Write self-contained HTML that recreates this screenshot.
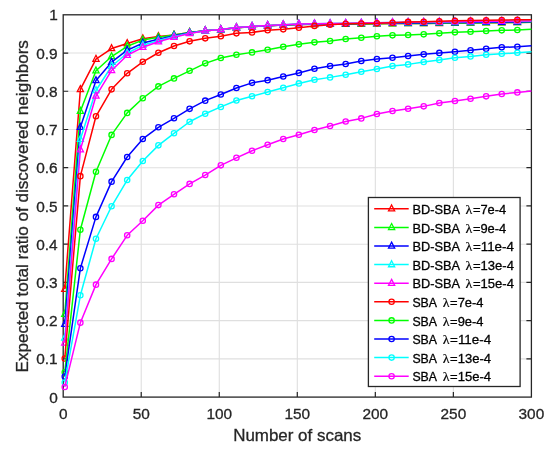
<!DOCTYPE html><html><head><meta charset="utf-8"><title>Expected total ratio of discovered neighbors</title>
<style>html,body{margin:0;padding:0;background:#fff}svg{display:block}text{font-family:"Liberation Sans",Arial,Helvetica,sans-serif;stroke-width:0.3px}</style></head><body>
<svg width="550" height="449" viewBox="0 0 550 449">
<rect width="550" height="449" fill="#ffffff"/>
<path d="M141.23 14.8 V397.1 M219.27 14.8 V397.1 M297.30 14.8 V397.1 M375.33 14.8 V397.1 M453.37 14.8 V397.1 M63.2 358.87 H531.4 M63.2 320.64 H531.4 M63.2 282.41 H531.4 M63.2 244.18 H531.4 M63.2 205.95 H531.4 M63.2 167.72 H531.4 M63.2 129.49 H531.4 M63.2 91.26 H531.4 M63.2 53.03 H531.4" stroke="#dfdfdf" stroke-width="1.1" fill="none"/>
<path d="M141.23 397.1 v-5.0 M141.23 14.8 v5.0 M219.27 397.1 v-5.0 M219.27 14.8 v5.0 M297.30 397.1 v-5.0 M297.30 14.8 v5.0 M375.33 397.1 v-5.0 M375.33 14.8 v5.0 M453.37 397.1 v-5.0 M453.37 14.8 v5.0 M63.2 358.87 h5.0 M531.4 358.87 h-5.0 M63.2 320.64 h5.0 M531.4 320.64 h-5.0 M63.2 282.41 h5.0 M531.4 282.41 h-5.0 M63.2 244.18 h5.0 M531.4 244.18 h-5.0 M63.2 205.95 h5.0 M531.4 205.95 h-5.0 M63.2 167.72 h5.0 M531.4 167.72 h-5.0 M63.2 129.49 h5.0 M531.4 129.49 h-5.0 M63.2 91.26 h5.0 M531.4 91.26 h-5.0 M63.2 53.03 h5.0 M531.4 53.03 h-5.0" stroke="#262626" stroke-width="1.2" fill="none"/>
<rect x="63.2" y="14.8" width="468.20" height="382.30" fill="none" stroke="#262626" stroke-width="1.3"/>
<polyline points="64.76,289.29 80.37,89.46 95.97,59.15 111.58,48.56 127.19,43.51 142.79,38.69 158.40,36.51 174.01,34.91 189.61,32.39 205.22,30.67 220.83,29.62 236.43,27.76 252.04,26.67 267.65,25.78 283.25,25.11 298.86,24.56 314.47,24.35 330.07,24.22 345.68,24.08 361.29,23.92 376.89,23.75 392.50,23.61 408.11,23.51 423.71,23.43 439.32,23.33 454.93,23.15 470.53,22.94 486.14,22.75 501.75,22.64 517.35,22.52 531.40,22.37" fill="none" stroke="#ff0000" stroke-width="1.5" stroke-linejoin="round"/>
<path d="M64.76 285.44 L67.86 291.44 L61.66 291.44 Z M80.37 85.61 L83.47 91.61 L77.27 91.61 Z M95.97 55.30 L99.07 61.30 L92.87 61.30 Z M111.58 44.71 L114.68 50.71 L108.48 50.71 Z M127.19 39.66 L130.29 45.66 L124.09 45.66 Z M142.79 34.84 L145.89 40.84 L139.69 40.84 Z M158.40 32.66 L161.50 38.66 L155.30 38.66 Z M174.01 31.06 L177.11 37.06 L170.91 37.06 Z M189.61 28.54 L192.71 34.54 L186.51 34.54 Z M205.22 26.82 L208.32 32.82 L202.12 32.82 Z M220.83 25.77 L223.93 31.77 L217.73 31.77 Z M236.43 23.91 L239.53 29.91 L233.33 29.91 Z M252.04 22.82 L255.14 28.82 L248.94 28.82 Z M267.65 21.93 L270.75 27.93 L264.55 27.93 Z M283.25 21.26 L286.35 27.26 L280.15 27.26 Z M298.86 20.71 L301.96 26.71 L295.76 26.71 Z M314.47 20.50 L317.57 26.50 L311.37 26.50 Z M330.07 20.37 L333.17 26.37 L326.97 26.37 Z M345.68 20.23 L348.78 26.23 L342.58 26.23 Z M361.29 20.07 L364.39 26.07 L358.19 26.07 Z M376.89 19.90 L379.99 25.90 L373.79 25.90 Z M392.50 19.76 L395.60 25.76 L389.40 25.76 Z M408.11 19.66 L411.21 25.66 L405.01 25.66 Z M423.71 19.58 L426.81 25.58 L420.61 25.58 Z M439.32 19.48 L442.42 25.48 L436.22 25.48 Z M454.93 19.30 L458.03 25.30 L451.83 25.30 Z M470.53 19.09 L473.63 25.09 L467.43 25.09 Z M486.14 18.90 L489.24 24.90 L483.04 24.90 Z M501.75 18.79 L504.85 24.79 L498.65 24.79 Z M517.35 18.67 L520.45 24.67 L514.25 24.67 Z" fill="none" stroke="#ff0000" stroke-width="1.3" stroke-linejoin="miter"/>
<polyline points="64.76,314.29 80.37,111.25 95.97,70.81 111.58,56.55 127.19,46.26 142.79,40.11 158.40,37.36 174.01,35.10 189.61,32.48 205.22,30.67 220.83,29.61 236.43,27.76 252.04,26.67 267.65,25.77 283.25,25.10 298.86,24.54 314.47,24.33 330.07,24.19 345.68,24.06 361.29,23.89 376.89,23.72 392.50,23.58 408.11,23.48 423.71,23.39 439.32,23.29 454.93,23.11 470.53,22.90 486.14,22.71 501.75,22.60 517.35,22.48 531.40,22.33" fill="none" stroke="#00ff00" stroke-width="1.5" stroke-linejoin="round"/>
<path d="M64.76 310.44 L67.86 316.44 L61.66 316.44 Z M80.37 107.40 L83.47 113.40 L77.27 113.40 Z M95.97 66.96 L99.07 72.96 L92.87 72.96 Z M111.58 52.70 L114.68 58.70 L108.48 58.70 Z M127.19 42.41 L130.29 48.41 L124.09 48.41 Z M142.79 36.26 L145.89 42.26 L139.69 42.26 Z M158.40 33.51 L161.50 39.51 L155.30 39.51 Z M174.01 31.25 L177.11 37.25 L170.91 37.25 Z M189.61 28.63 L192.71 34.63 L186.51 34.63 Z M205.22 26.82 L208.32 32.82 L202.12 32.82 Z M220.83 25.76 L223.93 31.76 L217.73 31.76 Z M236.43 23.91 L239.53 29.91 L233.33 29.91 Z M252.04 22.82 L255.14 28.82 L248.94 28.82 Z M267.65 21.92 L270.75 27.92 L264.55 27.92 Z M283.25 21.25 L286.35 27.25 L280.15 27.25 Z M298.86 20.69 L301.96 26.69 L295.76 26.69 Z M314.47 20.48 L317.57 26.48 L311.37 26.48 Z M330.07 20.34 L333.17 26.34 L326.97 26.34 Z M345.68 20.21 L348.78 26.21 L342.58 26.21 Z M361.29 20.04 L364.39 26.04 L358.19 26.04 Z M376.89 19.87 L379.99 25.87 L373.79 25.87 Z M392.50 19.73 L395.60 25.73 L389.40 25.73 Z M408.11 19.63 L411.21 25.63 L405.01 25.63 Z M423.71 19.54 L426.81 25.54 L420.61 25.54 Z M439.32 19.44 L442.42 25.44 L436.22 25.44 Z M454.93 19.26 L458.03 25.26 L451.83 25.26 Z M470.53 19.05 L473.63 25.05 L467.43 25.05 Z M486.14 18.86 L489.24 24.86 L483.04 24.86 Z M501.75 18.75 L504.85 24.75 L498.65 24.75 Z M517.35 18.63 L520.45 24.63 L514.25 24.63 Z" fill="none" stroke="#00ff00" stroke-width="1.3" stroke-linejoin="miter"/>
<polyline points="64.76,324.27 80.37,127.31 95.97,80.56 111.58,62.21 127.19,50.20 142.79,43.09 158.40,39.27 174.01,35.67 189.61,32.77 205.22,30.67 220.83,29.58 236.43,27.69 252.04,26.57 267.65,25.63 283.25,24.93 298.86,24.34 314.47,24.09 330.07,23.93 345.68,23.76 361.29,23.56 376.89,23.36 392.50,23.18 408.11,23.04 423.71,22.93 439.32,22.79 454.93,22.60 470.53,22.39 486.14,22.22 501.75,22.10 517.35,21.99 531.40,21.83" fill="none" stroke="#0000ff" stroke-width="1.5" stroke-linejoin="round"/>
<path d="M64.76 320.42 L67.86 326.42 L61.66 326.42 Z M80.37 123.46 L83.47 129.46 L77.27 129.46 Z M95.97 76.71 L99.07 82.71 L92.87 82.71 Z M111.58 58.36 L114.68 64.36 L108.48 64.36 Z M127.19 46.35 L130.29 52.35 L124.09 52.35 Z M142.79 39.24 L145.89 45.24 L139.69 45.24 Z M158.40 35.42 L161.50 41.42 L155.30 41.42 Z M174.01 31.82 L177.11 37.82 L170.91 37.82 Z M189.61 28.92 L192.71 34.92 L186.51 34.92 Z M205.22 26.82 L208.32 32.82 L202.12 32.82 Z M220.83 25.73 L223.93 31.73 L217.73 31.73 Z M236.43 23.84 L239.53 29.84 L233.33 29.84 Z M252.04 22.72 L255.14 28.72 L248.94 28.72 Z M267.65 21.78 L270.75 27.78 L264.55 27.78 Z M283.25 21.08 L286.35 27.08 L280.15 27.08 Z M298.86 20.49 L301.96 26.49 L295.76 26.49 Z M314.47 20.24 L317.57 26.24 L311.37 26.24 Z M330.07 20.08 L333.17 26.08 L326.97 26.08 Z M345.68 19.91 L348.78 25.91 L342.58 25.91 Z M361.29 19.71 L364.39 25.71 L358.19 25.71 Z M376.89 19.51 L379.99 25.51 L373.79 25.51 Z M392.50 19.33 L395.60 25.33 L389.40 25.33 Z M408.11 19.19 L411.21 25.19 L405.01 25.19 Z M423.71 19.08 L426.81 25.08 L420.61 25.08 Z M439.32 18.94 L442.42 24.94 L436.22 24.94 Z M454.93 18.75 L458.03 24.75 L451.83 24.75 Z M470.53 18.54 L473.63 24.54 L467.43 24.54 Z M486.14 18.37 L489.24 24.37 L483.04 24.37 Z M501.75 18.25 L504.85 24.25 L498.65 24.25 Z M517.35 18.14 L520.45 24.14 L514.25 24.14 Z" fill="none" stroke="#0000ff" stroke-width="1.3" stroke-linejoin="miter"/>
<polyline points="64.76,337.96 80.37,139.32 95.97,90.50 111.58,66.26 127.19,53.22 142.79,45.19 158.40,40.53 174.01,36.44 189.61,33.15 205.22,30.67 220.83,29.53 236.43,27.58 252.04,26.41 267.65,25.42 283.25,24.66 298.86,24.02 314.47,23.71 330.07,23.50 345.68,23.28 361.29,23.02 376.89,22.77 392.50,22.54 408.11,22.34 423.71,22.17 439.32,21.99 454.93,21.79 470.53,21.58 486.14,21.41 501.75,21.30 517.35,21.18 531.40,21.03" fill="none" stroke="#00ffff" stroke-width="1.5" stroke-linejoin="round"/>
<path d="M64.76 334.11 L67.86 340.11 L61.66 340.11 Z M80.37 135.47 L83.47 141.47 L77.27 141.47 Z M95.97 86.65 L99.07 92.65 L92.87 92.65 Z M111.58 62.41 L114.68 68.41 L108.48 68.41 Z M127.19 49.37 L130.29 55.37 L124.09 55.37 Z M142.79 41.34 L145.89 47.34 L139.69 47.34 Z M158.40 36.68 L161.50 42.68 L155.30 42.68 Z M174.01 32.59 L177.11 38.59 L170.91 38.59 Z M189.61 29.30 L192.71 35.30 L186.51 35.30 Z M205.22 26.82 L208.32 32.82 L202.12 32.82 Z M220.83 25.68 L223.93 31.68 L217.73 31.68 Z M236.43 23.73 L239.53 29.73 L233.33 29.73 Z M252.04 22.56 L255.14 28.56 L248.94 28.56 Z M267.65 21.57 L270.75 27.57 L264.55 27.57 Z M283.25 20.81 L286.35 26.81 L280.15 26.81 Z M298.86 20.17 L301.96 26.17 L295.76 26.17 Z M314.47 19.86 L317.57 25.86 L311.37 25.86 Z M330.07 19.65 L333.17 25.65 L326.97 25.65 Z M345.68 19.43 L348.78 25.43 L342.58 25.43 Z M361.29 19.17 L364.39 25.17 L358.19 25.17 Z M376.89 18.92 L379.99 24.92 L373.79 24.92 Z M392.50 18.69 L395.60 24.69 L389.40 24.69 Z M408.11 18.49 L411.21 24.49 L405.01 24.49 Z M423.71 18.32 L426.81 24.32 L420.61 24.32 Z M439.32 18.14 L442.42 24.14 L436.22 24.14 Z M454.93 17.94 L458.03 23.94 L451.83 23.94 Z M470.53 17.73 L473.63 23.73 L467.43 23.73 Z M486.14 17.56 L489.24 23.56 L483.04 23.56 Z M501.75 17.45 L504.85 23.45 L498.65 23.45 Z M517.35 17.33 L520.45 23.33 L514.25 23.33 Z" fill="none" stroke="#00ffff" stroke-width="1.3" stroke-linejoin="miter"/>
<polyline points="64.76,342.93 80.37,149.75 95.97,96.04 111.58,70.42 127.19,55.25 142.79,47.30 158.40,41.71 174.01,37.20 189.61,33.53 205.22,30.67 220.83,29.52 236.43,27.57 252.04,26.38 267.65,25.39 283.25,24.63 298.86,23.98 314.47,23.66 330.07,23.43 345.68,23.21 361.29,22.95 376.89,22.68 392.50,22.45 408.11,22.24 423.71,22.06 439.32,21.87 454.93,21.67 470.53,21.47 486.14,21.30 501.75,21.18 517.35,21.07 531.40,20.92" fill="none" stroke="#ff00ff" stroke-width="1.5" stroke-linejoin="round"/>
<path d="M64.76 339.08 L67.86 345.08 L61.66 345.08 Z M80.37 145.90 L83.47 151.90 L77.27 151.90 Z M95.97 92.19 L99.07 98.19 L92.87 98.19 Z M111.58 66.57 L114.68 72.57 L108.48 72.57 Z M127.19 51.40 L130.29 57.40 L124.09 57.40 Z M142.79 43.45 L145.89 49.45 L139.69 49.45 Z M158.40 37.86 L161.50 43.86 L155.30 43.86 Z M174.01 33.35 L177.11 39.35 L170.91 39.35 Z M189.61 29.68 L192.71 35.68 L186.51 35.68 Z M205.22 26.82 L208.32 32.82 L202.12 32.82 Z M220.83 25.67 L223.93 31.67 L217.73 31.67 Z M236.43 23.72 L239.53 29.72 L233.33 29.72 Z M252.04 22.53 L255.14 28.53 L248.94 28.53 Z M267.65 21.54 L270.75 27.54 L264.55 27.54 Z M283.25 20.78 L286.35 26.78 L280.15 26.78 Z M298.86 20.13 L301.96 26.13 L295.76 26.13 Z M314.47 19.81 L317.57 25.81 L311.37 25.81 Z M330.07 19.58 L333.17 25.58 L326.97 25.58 Z M345.68 19.36 L348.78 25.36 L342.58 25.36 Z M361.29 19.10 L364.39 25.10 L358.19 25.10 Z M376.89 18.83 L379.99 24.83 L373.79 24.83 Z M392.50 18.60 L395.60 24.60 L389.40 24.60 Z M408.11 18.39 L411.21 24.39 L405.01 24.39 Z M423.71 18.21 L426.81 24.21 L420.61 24.21 Z M439.32 18.02 L442.42 24.02 L436.22 24.02 Z M454.93 17.82 L458.03 23.82 L451.83 23.82 Z M470.53 17.62 L473.63 23.62 L467.43 23.62 Z M486.14 17.45 L489.24 23.45 L483.04 23.45 Z M501.75 17.33 L504.85 23.33 L498.65 23.33 Z M517.35 17.22 L520.45 23.22 L514.25 23.22 Z" fill="none" stroke="#ff00ff" stroke-width="1.3" stroke-linejoin="miter"/>
<polyline points="64.76,358.45 80.37,176.13 95.97,116.30 111.58,89.35 127.19,73.29 142.79,61.82 158.40,52.76 174.01,45.96 189.61,41.33 205.22,38.35 220.83,36.32 236.43,33.34 252.04,32.39 267.65,30.32 283.25,29.33 298.86,27.72 314.47,25.89 330.07,24.74 345.68,23.71 361.29,23.59 376.89,23.33 392.50,22.71 408.11,21.91 423.71,21.68 439.32,21.30 454.93,20.84 470.53,20.50 486.14,20.23 501.75,20.04 517.35,19.85 531.40,19.73" fill="none" stroke="#ff0000" stroke-width="1.5" stroke-linejoin="round"/>
<g fill="none" stroke="#ff0000" stroke-width="1.3"><circle cx="64.76" cy="358.45" r="2.65"/><circle cx="80.37" cy="176.13" r="2.65"/><circle cx="95.97" cy="116.30" r="2.65"/><circle cx="111.58" cy="89.35" r="2.65"/><circle cx="127.19" cy="73.29" r="2.65"/><circle cx="142.79" cy="61.82" r="2.65"/><circle cx="158.40" cy="52.76" r="2.65"/><circle cx="174.01" cy="45.96" r="2.65"/><circle cx="189.61" cy="41.33" r="2.65"/><circle cx="205.22" cy="38.35" r="2.65"/><circle cx="220.83" cy="36.32" r="2.65"/><circle cx="236.43" cy="33.34" r="2.65"/><circle cx="252.04" cy="32.39" r="2.65"/><circle cx="267.65" cy="30.32" r="2.65"/><circle cx="283.25" cy="29.33" r="2.65"/><circle cx="298.86" cy="27.72" r="2.65"/><circle cx="314.47" cy="25.89" r="2.65"/><circle cx="330.07" cy="24.74" r="2.65"/><circle cx="345.68" cy="23.71" r="2.65"/><circle cx="361.29" cy="23.59" r="2.65"/><circle cx="376.89" cy="23.33" r="2.65"/><circle cx="392.50" cy="22.71" r="2.65"/><circle cx="408.11" cy="21.91" r="2.65"/><circle cx="423.71" cy="21.68" r="2.65"/><circle cx="439.32" cy="21.30" r="2.65"/><circle cx="454.93" cy="20.84" r="2.65"/><circle cx="470.53" cy="20.50" r="2.65"/><circle cx="486.14" cy="20.23" r="2.65"/><circle cx="501.75" cy="20.04" r="2.65"/><circle cx="517.35" cy="19.85" r="2.65"/></g>
<polyline points="64.76,372.33 80.37,229.69 95.97,171.81 111.58,134.92 127.19,112.90 142.79,98.26 158.40,86.40 174.01,78.41 189.61,70.81 205.22,63.35 220.83,58.00 236.43,54.75 252.04,52.38 267.65,49.78 283.25,46.76 298.86,44.35 314.47,42.33 330.07,40.95 345.68,38.96 361.29,37.74 376.89,36.32 392.50,35.33 408.11,34.95 423.71,34.34 439.32,33.34 454.93,32.35 470.53,31.74 486.14,30.93 501.75,30.36 517.35,29.94 531.40,29.33" fill="none" stroke="#00ff00" stroke-width="1.5" stroke-linejoin="round"/>
<g fill="none" stroke="#00ff00" stroke-width="1.3"><circle cx="64.76" cy="372.33" r="2.65"/><circle cx="80.37" cy="229.69" r="2.65"/><circle cx="95.97" cy="171.81" r="2.65"/><circle cx="111.58" cy="134.92" r="2.65"/><circle cx="127.19" cy="112.90" r="2.65"/><circle cx="142.79" cy="98.26" r="2.65"/><circle cx="158.40" cy="86.40" r="2.65"/><circle cx="174.01" cy="78.41" r="2.65"/><circle cx="189.61" cy="70.81" r="2.65"/><circle cx="205.22" cy="63.35" r="2.65"/><circle cx="220.83" cy="58.00" r="2.65"/><circle cx="236.43" cy="54.75" r="2.65"/><circle cx="252.04" cy="52.38" r="2.65"/><circle cx="267.65" cy="49.78" r="2.65"/><circle cx="283.25" cy="46.76" r="2.65"/><circle cx="298.86" cy="44.35" r="2.65"/><circle cx="314.47" cy="42.33" r="2.65"/><circle cx="330.07" cy="40.95" r="2.65"/><circle cx="345.68" cy="38.96" r="2.65"/><circle cx="361.29" cy="37.74" r="2.65"/><circle cx="376.89" cy="36.32" r="2.65"/><circle cx="392.50" cy="35.33" r="2.65"/><circle cx="408.11" cy="34.95" r="2.65"/><circle cx="423.71" cy="34.34" r="2.65"/><circle cx="439.32" cy="33.34" r="2.65"/><circle cx="454.93" cy="32.35" r="2.65"/><circle cx="470.53" cy="31.74" r="2.65"/><circle cx="486.14" cy="30.93" r="2.65"/><circle cx="501.75" cy="30.36" r="2.65"/><circle cx="517.35" cy="29.94" r="2.65"/></g>
<polyline points="64.76,376.61 80.37,268.19 95.97,216.88 111.58,181.67 127.19,157.02 142.79,138.93 158.40,127.31 174.01,118.29 189.61,108.85 205.22,100.63 220.83,94.55 236.43,88.01 252.04,82.85 267.65,80.17 283.25,76.43 298.86,72.91 314.47,68.82 330.07,66.03 345.68,64.00 361.29,61.06 376.89,58.99 392.50,57.77 408.11,55.97 423.71,54.37 439.32,52.92 454.93,51.77 470.53,50.35 486.14,48.82 501.75,47.37 517.35,46.76 531.40,45.77" fill="none" stroke="#0000ff" stroke-width="1.5" stroke-linejoin="round"/>
<g fill="none" stroke="#0000ff" stroke-width="1.3"><circle cx="64.76" cy="376.61" r="2.65"/><circle cx="80.37" cy="268.19" r="2.65"/><circle cx="95.97" cy="216.88" r="2.65"/><circle cx="111.58" cy="181.67" r="2.65"/><circle cx="127.19" cy="157.02" r="2.65"/><circle cx="142.79" cy="138.93" r="2.65"/><circle cx="158.40" cy="127.31" r="2.65"/><circle cx="174.01" cy="118.29" r="2.65"/><circle cx="189.61" cy="108.85" r="2.65"/><circle cx="205.22" cy="100.63" r="2.65"/><circle cx="220.83" cy="94.55" r="2.65"/><circle cx="236.43" cy="88.01" r="2.65"/><circle cx="252.04" cy="82.85" r="2.65"/><circle cx="267.65" cy="80.17" r="2.65"/><circle cx="283.25" cy="76.43" r="2.65"/><circle cx="298.86" cy="72.91" r="2.65"/><circle cx="314.47" cy="68.82" r="2.65"/><circle cx="330.07" cy="66.03" r="2.65"/><circle cx="345.68" cy="64.00" r="2.65"/><circle cx="361.29" cy="61.06" r="2.65"/><circle cx="376.89" cy="58.99" r="2.65"/><circle cx="392.50" cy="57.77" r="2.65"/><circle cx="408.11" cy="55.97" r="2.65"/><circle cx="423.71" cy="54.37" r="2.65"/><circle cx="439.32" cy="52.92" r="2.65"/><circle cx="454.93" cy="51.77" r="2.65"/><circle cx="470.53" cy="50.35" r="2.65"/><circle cx="486.14" cy="48.82" r="2.65"/><circle cx="501.75" cy="47.37" r="2.65"/><circle cx="517.35" cy="46.76" r="2.65"/></g>
<polyline points="64.76,382.50 80.37,295.26 95.97,238.71 111.58,206.29 127.19,180.03 142.79,160.95 158.40,145.36 174.01,133.31 189.61,121.73 205.22,113.70 220.83,106.93 236.43,100.55 252.04,96.23 267.65,92.02 283.25,87.82 298.86,83.42 314.47,79.79 330.07,77.38 345.68,74.82 361.29,71.76 376.89,68.97 392.50,66.03 408.11,64.38 423.71,61.98 439.32,59.91 454.93,57.77 470.53,56.39 486.14,54.79 501.75,53.79 517.35,52.76 531.40,51.77" fill="none" stroke="#00ffff" stroke-width="1.5" stroke-linejoin="round"/>
<g fill="none" stroke="#00ffff" stroke-width="1.3"><circle cx="64.76" cy="382.50" r="2.65"/><circle cx="80.37" cy="295.26" r="2.65"/><circle cx="95.97" cy="238.71" r="2.65"/><circle cx="111.58" cy="206.29" r="2.65"/><circle cx="127.19" cy="180.03" r="2.65"/><circle cx="142.79" cy="160.95" r="2.65"/><circle cx="158.40" cy="145.36" r="2.65"/><circle cx="174.01" cy="133.31" r="2.65"/><circle cx="189.61" cy="121.73" r="2.65"/><circle cx="205.22" cy="113.70" r="2.65"/><circle cx="220.83" cy="106.93" r="2.65"/><circle cx="236.43" cy="100.55" r="2.65"/><circle cx="252.04" cy="96.23" r="2.65"/><circle cx="267.65" cy="92.02" r="2.65"/><circle cx="283.25" cy="87.82" r="2.65"/><circle cx="298.86" cy="83.42" r="2.65"/><circle cx="314.47" cy="79.79" r="2.65"/><circle cx="330.07" cy="77.38" r="2.65"/><circle cx="345.68" cy="74.82" r="2.65"/><circle cx="361.29" cy="71.76" r="2.65"/><circle cx="376.89" cy="68.97" r="2.65"/><circle cx="392.50" cy="66.03" r="2.65"/><circle cx="408.11" cy="64.38" r="2.65"/><circle cx="423.71" cy="61.98" r="2.65"/><circle cx="439.32" cy="59.91" r="2.65"/><circle cx="454.93" cy="57.77" r="2.65"/><circle cx="470.53" cy="56.39" r="2.65"/><circle cx="486.14" cy="54.79" r="2.65"/><circle cx="501.75" cy="53.79" r="2.65"/><circle cx="517.35" cy="52.76" r="2.65"/></g>
<polyline points="64.76,386.93 80.37,322.67 95.97,284.63 111.58,258.90 127.19,235.31 142.79,220.71 158.40,205.11 174.01,194.29 189.61,183.89 205.22,175.06 220.83,165.35 236.43,157.82 252.04,150.71 267.65,144.78 283.25,138.93 298.86,134.73 314.47,129.95 330.07,125.93 345.68,121.54 361.29,118.40 376.89,113.93 392.50,110.95 408.11,108.73 423.71,106.36 439.32,102.96 454.93,100.97 470.53,98.75 486.14,96.34 501.75,93.94 517.35,92.41 531.40,90.95" fill="none" stroke="#ff00ff" stroke-width="1.5" stroke-linejoin="round"/>
<g fill="none" stroke="#ff00ff" stroke-width="1.3"><circle cx="64.76" cy="386.93" r="2.65"/><circle cx="80.37" cy="322.67" r="2.65"/><circle cx="95.97" cy="284.63" r="2.65"/><circle cx="111.58" cy="258.90" r="2.65"/><circle cx="127.19" cy="235.31" r="2.65"/><circle cx="142.79" cy="220.71" r="2.65"/><circle cx="158.40" cy="205.11" r="2.65"/><circle cx="174.01" cy="194.29" r="2.65"/><circle cx="189.61" cy="183.89" r="2.65"/><circle cx="205.22" cy="175.06" r="2.65"/><circle cx="220.83" cy="165.35" r="2.65"/><circle cx="236.43" cy="157.82" r="2.65"/><circle cx="252.04" cy="150.71" r="2.65"/><circle cx="267.65" cy="144.78" r="2.65"/><circle cx="283.25" cy="138.93" r="2.65"/><circle cx="298.86" cy="134.73" r="2.65"/><circle cx="314.47" cy="129.95" r="2.65"/><circle cx="330.07" cy="125.93" r="2.65"/><circle cx="345.68" cy="121.54" r="2.65"/><circle cx="361.29" cy="118.40" r="2.65"/><circle cx="376.89" cy="113.93" r="2.65"/><circle cx="392.50" cy="110.95" r="2.65"/><circle cx="408.11" cy="108.73" r="2.65"/><circle cx="423.71" cy="106.36" r="2.65"/><circle cx="439.32" cy="102.96" r="2.65"/><circle cx="454.93" cy="100.97" r="2.65"/><circle cx="470.53" cy="98.75" r="2.65"/><circle cx="486.14" cy="96.34" r="2.65"/><circle cx="501.75" cy="93.94" r="2.65"/><circle cx="517.35" cy="92.41" r="2.65"/></g>
<text x="63.20" y="418.8" font-size="15.4" text-anchor="middle" fill="#262626" stroke="#262626">0</text>
<text x="141.23" y="418.8" font-size="15.4" text-anchor="middle" fill="#262626" stroke="#262626">50</text>
<text x="219.27" y="418.8" font-size="15.4" text-anchor="middle" fill="#262626" stroke="#262626">100</text>
<text x="297.30" y="418.8" font-size="15.4" text-anchor="middle" fill="#262626" stroke="#262626">150</text>
<text x="375.33" y="418.8" font-size="15.4" text-anchor="middle" fill="#262626" stroke="#262626">200</text>
<text x="453.37" y="418.8" font-size="15.4" text-anchor="middle" fill="#262626" stroke="#262626">250</text>
<text x="531.40" y="418.8" font-size="15.4" text-anchor="middle" fill="#262626" stroke="#262626">300</text>
<text x="57.7" y="402.65" font-size="15.4" text-anchor="end" fill="#262626" stroke="#262626">0</text>
<text x="57.7" y="364.42" font-size="15.4" text-anchor="end" fill="#262626" stroke="#262626">0.1</text>
<text x="57.7" y="326.19" font-size="15.4" text-anchor="end" fill="#262626" stroke="#262626">0.2</text>
<text x="57.7" y="287.96" font-size="15.4" text-anchor="end" fill="#262626" stroke="#262626">0.3</text>
<text x="57.7" y="249.73" font-size="15.4" text-anchor="end" fill="#262626" stroke="#262626">0.4</text>
<text x="57.7" y="211.50" font-size="15.4" text-anchor="end" fill="#262626" stroke="#262626">0.5</text>
<text x="57.7" y="173.27" font-size="15.4" text-anchor="end" fill="#262626" stroke="#262626">0.6</text>
<text x="57.7" y="135.04" font-size="15.4" text-anchor="end" fill="#262626" stroke="#262626">0.7</text>
<text x="57.7" y="96.81" font-size="15.4" text-anchor="end" fill="#262626" stroke="#262626">0.8</text>
<text x="57.7" y="58.58" font-size="15.4" text-anchor="end" fill="#262626" stroke="#262626">0.9</text>
<text x="57.7" y="20.35" font-size="15.4" text-anchor="end" fill="#262626" stroke="#262626">1</text>
<text x="297.2" y="441.2" font-size="16.5" text-anchor="middle" fill="#262626" stroke="#262626" textLength="128" lengthAdjust="spacingAndGlyphs">Number of scans</text>
<text transform="translate(28.2 206.3) rotate(-90)" font-size="16.5" text-anchor="middle" fill="#262626" stroke="#262626" textLength="332.3" lengthAdjust="spacingAndGlyphs">Expected total ratio of discovered neighbors</text>
<rect x="368.4" y="197.5" width="151.70" height="189.00" fill="#ffffff" stroke="#262626" stroke-width="1.3"/>
<path d="M374.2 208.80 H408.7" stroke="#ff0000" stroke-width="1.5"/>
<path d="M391.60 204.95 L394.70 210.95 L388.50 210.95 Z" fill="none" stroke="#ff0000" stroke-width="1.3"/>
<text y="214.00" font-size="12.8" fill="#000000" stroke="#000000" stroke-width="0.45"><tspan x="412.4" textLength="47.6" lengthAdjust="spacingAndGlyphs">BD-SBA</tspan><tspan x="465.6" font-family="'Liberation Serif','DejaVu Serif',serif" font-size="12.3" stroke-width="0.15" textLength="6.8" lengthAdjust="spacingAndGlyphs">λ</tspan><tspan x="472.9" textLength="33.4" lengthAdjust="spacingAndGlyphs">=7e-4</tspan></text>
<path d="M374.2 227.40 H408.7" stroke="#00ff00" stroke-width="1.5"/>
<path d="M391.60 223.55 L394.70 229.55 L388.50 229.55 Z" fill="none" stroke="#00ff00" stroke-width="1.3"/>
<text y="232.60" font-size="12.8" fill="#000000" stroke="#000000" stroke-width="0.45"><tspan x="412.4" textLength="47.6" lengthAdjust="spacingAndGlyphs">BD-SBA</tspan><tspan x="465.6" font-family="'Liberation Serif','DejaVu Serif',serif" font-size="12.3" stroke-width="0.15" textLength="6.8" lengthAdjust="spacingAndGlyphs">λ</tspan><tspan x="472.9" textLength="33.4" lengthAdjust="spacingAndGlyphs">=9e-4</tspan></text>
<path d="M374.2 246.00 H408.7" stroke="#0000ff" stroke-width="1.5"/>
<path d="M391.60 242.15 L394.70 248.15 L388.50 248.15 Z" fill="none" stroke="#0000ff" stroke-width="1.3"/>
<text y="251.20" font-size="12.8" fill="#000000" stroke="#000000" stroke-width="0.45"><tspan x="412.4" textLength="47.6" lengthAdjust="spacingAndGlyphs">BD-SBA</tspan><tspan x="465.6" font-family="'Liberation Serif','DejaVu Serif',serif" font-size="12.3" stroke-width="0.15" textLength="6.8" lengthAdjust="spacingAndGlyphs">λ</tspan><tspan x="472.9" textLength="41.0" lengthAdjust="spacingAndGlyphs">=11e-4</tspan></text>
<path d="M374.2 264.60 H408.7" stroke="#00ffff" stroke-width="1.5"/>
<path d="M391.60 260.75 L394.70 266.75 L388.50 266.75 Z" fill="none" stroke="#00ffff" stroke-width="1.3"/>
<text y="269.80" font-size="12.8" fill="#000000" stroke="#000000" stroke-width="0.45"><tspan x="412.4" textLength="47.6" lengthAdjust="spacingAndGlyphs">BD-SBA</tspan><tspan x="465.6" font-family="'Liberation Serif','DejaVu Serif',serif" font-size="12.3" stroke-width="0.15" textLength="6.8" lengthAdjust="spacingAndGlyphs">λ</tspan><tspan x="472.9" textLength="41.0" lengthAdjust="spacingAndGlyphs">=13e-4</tspan></text>
<path d="M374.2 283.20 H408.7" stroke="#ff00ff" stroke-width="1.5"/>
<path d="M391.60 279.35 L394.70 285.35 L388.50 285.35 Z" fill="none" stroke="#ff00ff" stroke-width="1.3"/>
<text y="288.40" font-size="12.8" fill="#000000" stroke="#000000" stroke-width="0.45"><tspan x="412.4" textLength="47.6" lengthAdjust="spacingAndGlyphs">BD-SBA</tspan><tspan x="465.6" font-family="'Liberation Serif','DejaVu Serif',serif" font-size="12.3" stroke-width="0.15" textLength="6.8" lengthAdjust="spacingAndGlyphs">λ</tspan><tspan x="472.9" textLength="41.0" lengthAdjust="spacingAndGlyphs">=15e-4</tspan></text>
<path d="M374.2 301.80 H408.7" stroke="#ff0000" stroke-width="1.5"/>
<circle cx="391.6" cy="301.80" r="2.65" fill="none" stroke="#ff0000" stroke-width="1.3"/>
<text y="307.00" font-size="12.8" fill="#000000" stroke="#000000" stroke-width="0.45"><tspan x="412.4" textLength="24.6" lengthAdjust="spacingAndGlyphs">SBA</tspan><tspan x="442.8" font-family="'Liberation Serif','DejaVu Serif',serif" font-size="12.3" stroke-width="0.15" textLength="6.8" lengthAdjust="spacingAndGlyphs">λ</tspan><tspan x="450.1" textLength="33.4" lengthAdjust="spacingAndGlyphs">=7e-4</tspan></text>
<path d="M374.2 320.40 H408.7" stroke="#00ff00" stroke-width="1.5"/>
<circle cx="391.6" cy="320.40" r="2.65" fill="none" stroke="#00ff00" stroke-width="1.3"/>
<text y="325.60" font-size="12.8" fill="#000000" stroke="#000000" stroke-width="0.45"><tspan x="412.4" textLength="24.6" lengthAdjust="spacingAndGlyphs">SBA</tspan><tspan x="442.8" font-family="'Liberation Serif','DejaVu Serif',serif" font-size="12.3" stroke-width="0.15" textLength="6.8" lengthAdjust="spacingAndGlyphs">λ</tspan><tspan x="450.1" textLength="33.4" lengthAdjust="spacingAndGlyphs">=9e-4</tspan></text>
<path d="M374.2 339.00 H408.7" stroke="#0000ff" stroke-width="1.5"/>
<circle cx="391.6" cy="339.00" r="2.65" fill="none" stroke="#0000ff" stroke-width="1.3"/>
<text y="344.20" font-size="12.8" fill="#000000" stroke="#000000" stroke-width="0.45"><tspan x="412.4" textLength="24.6" lengthAdjust="spacingAndGlyphs">SBA</tspan><tspan x="442.8" font-family="'Liberation Serif','DejaVu Serif',serif" font-size="12.3" stroke-width="0.15" textLength="6.8" lengthAdjust="spacingAndGlyphs">λ</tspan><tspan x="450.1" textLength="41.0" lengthAdjust="spacingAndGlyphs">=11e-4</tspan></text>
<path d="M374.2 357.60 H408.7" stroke="#00ffff" stroke-width="1.5"/>
<circle cx="391.6" cy="357.60" r="2.65" fill="none" stroke="#00ffff" stroke-width="1.3"/>
<text y="362.80" font-size="12.8" fill="#000000" stroke="#000000" stroke-width="0.45"><tspan x="412.4" textLength="24.6" lengthAdjust="spacingAndGlyphs">SBA</tspan><tspan x="442.8" font-family="'Liberation Serif','DejaVu Serif',serif" font-size="12.3" stroke-width="0.15" textLength="6.8" lengthAdjust="spacingAndGlyphs">λ</tspan><tspan x="450.1" textLength="41.0" lengthAdjust="spacingAndGlyphs">=13e-4</tspan></text>
<path d="M374.2 376.20 H408.7" stroke="#ff00ff" stroke-width="1.5"/>
<circle cx="391.6" cy="376.20" r="2.65" fill="none" stroke="#ff00ff" stroke-width="1.3"/>
<text y="381.40" font-size="12.8" fill="#000000" stroke="#000000" stroke-width="0.45"><tspan x="412.4" textLength="24.6" lengthAdjust="spacingAndGlyphs">SBA</tspan><tspan x="442.8" font-family="'Liberation Serif','DejaVu Serif',serif" font-size="12.3" stroke-width="0.15" textLength="6.8" lengthAdjust="spacingAndGlyphs">λ</tspan><tspan x="450.1" textLength="41.0" lengthAdjust="spacingAndGlyphs">=15e-4</tspan></text>
</svg></body></html>
